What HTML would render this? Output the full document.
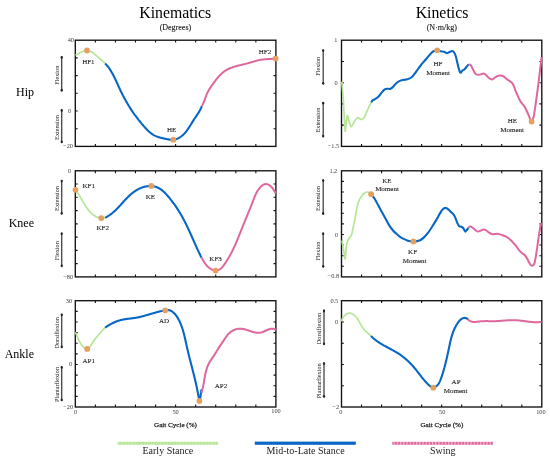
<!DOCTYPE html>
<html lang="en"><head><meta charset="utf-8"><title>Gait kinematics and kinetics</title>
<style>
html,body{margin:0;padding:0;background:#fff;}
body{width:550px;height:459px;overflow:hidden;}
svg{display:block;}
</style></head>
<body>
<svg width="550" height="459" viewBox="0 0 550 459" font-family="'Liberation Serif', 'Times New Roman', serif">
<path d="M95.36,146.4 v-2.4 M95.36,40.2 v2.4 M115.42,146.4 v-2.4 M115.42,40.2 v2.4 M135.48,146.4 v-2.4 M135.48,40.2 v2.4 M155.54,146.4 v-2.4 M155.54,40.2 v2.4 M175.6,146.4 v-2.4 M175.6,40.2 v2.4 M195.66,146.4 v-2.4 M195.66,40.2 v2.4 M215.72,146.4 v-2.4 M215.72,40.2 v2.4 M235.78,146.4 v-2.4 M235.78,40.2 v2.4 M255.84,146.4 v-2.4 M255.84,40.2 v2.4 M75.3,57.9 h2.4 M275.9,57.9 h-2.4 M75.3,75.6 h2.4 M275.9,75.6 h-2.4 M75.3,93.3 h2.4 M275.9,93.3 h-2.4 M75.3,111 h2.4 M275.9,111 h-2.4 M75.3,128.7 h2.4 M275.9,128.7 h-2.4" stroke="#111" stroke-width="1.1" fill="none"/>
<rect x="75.3" y="40.2" width="200.6" height="106.2" fill="none" stroke="#111" stroke-width="1.35"/>
<path d="M95.36,276.9 v-2.4 M95.36,170.8 v2.4 M115.42,276.9 v-2.4 M115.42,170.8 v2.4 M135.48,276.9 v-2.4 M135.48,170.8 v2.4 M155.54,276.9 v-2.4 M155.54,170.8 v2.4 M175.6,276.9 v-2.4 M175.6,170.8 v2.4 M195.66,276.9 v-2.4 M195.66,170.8 v2.4 M215.72,276.9 v-2.4 M215.72,170.8 v2.4 M235.78,276.9 v-2.4 M235.78,170.8 v2.4 M255.84,276.9 v-2.4 M255.84,170.8 v2.4 M75.3,184.06 h2.4 M275.9,184.06 h-2.4 M75.3,197.32 h2.4 M275.9,197.32 h-2.4 M75.3,210.59 h2.4 M275.9,210.59 h-2.4 M75.3,223.85 h2.4 M275.9,223.85 h-2.4 M75.3,237.11 h2.4 M275.9,237.11 h-2.4 M75.3,250.38 h2.4 M275.9,250.38 h-2.4 M75.3,263.64 h2.4 M275.9,263.64 h-2.4" stroke="#111" stroke-width="1.1" fill="none"/>
<rect x="75.3" y="170.8" width="200.6" height="106.1" fill="none" stroke="#111" stroke-width="1.35"/>
<path d="M95.36,407 v-2.4 M95.36,300.7 v2.4 M115.42,407 v-2.4 M115.42,300.7 v2.4 M135.48,407 v-2.4 M135.48,300.7 v2.4 M155.54,407 v-2.4 M155.54,300.7 v2.4 M175.6,407 v-2.4 M175.6,300.7 v2.4 M195.66,407 v-2.4 M195.66,300.7 v2.4 M215.72,407 v-2.4 M215.72,300.7 v2.4 M235.78,407 v-2.4 M235.78,300.7 v2.4 M255.84,407 v-2.4 M255.84,300.7 v2.4 M75.3,311.33 h2.4 M275.9,311.33 h-2.4 M75.3,321.96 h2.4 M275.9,321.96 h-2.4 M75.3,332.59 h2.4 M275.9,332.59 h-2.4 M75.3,343.22 h2.4 M275.9,343.22 h-2.4 M75.3,353.85 h2.4 M275.9,353.85 h-2.4 M75.3,364.48 h2.4 M275.9,364.48 h-2.4 M75.3,375.11 h2.4 M275.9,375.11 h-2.4 M75.3,385.74 h2.4 M275.9,385.74 h-2.4 M75.3,396.37 h2.4 M275.9,396.37 h-2.4" stroke="#111" stroke-width="1.1" fill="none"/>
<rect x="75.3" y="300.7" width="200.6" height="106.3" fill="none" stroke="#111" stroke-width="1.35"/>
<path d="M361.53,146.4 v-2.4 M361.53,40.2 v2.4 M381.56,146.4 v-2.4 M381.56,40.2 v2.4 M401.59,146.4 v-2.4 M401.59,40.2 v2.4 M421.62,146.4 v-2.4 M421.62,40.2 v2.4 M441.65,146.4 v-2.4 M441.65,40.2 v2.4 M461.68,146.4 v-2.4 M461.68,40.2 v2.4 M481.71,146.4 v-2.4 M481.71,40.2 v2.4 M501.74,146.4 v-2.4 M501.74,40.2 v2.4 M521.77,146.4 v-2.4 M521.77,40.2 v2.4 M341.5,61.44 h2.4 M541.8,61.44 h-2.4 M341.5,82.68 h2.4 M541.8,82.68 h-2.4 M341.5,103.92 h2.4 M541.8,103.92 h-2.4 M341.5,125.16 h2.4 M541.8,125.16 h-2.4" stroke="#111" stroke-width="1.1" fill="none"/>
<rect x="341.5" y="40.2" width="200.3" height="106.2" fill="none" stroke="#111" stroke-width="1.35"/>
<path d="M361.53,276.9 v-2.4 M361.53,170.8 v2.4 M381.56,276.9 v-2.4 M381.56,170.8 v2.4 M401.59,276.9 v-2.4 M401.59,170.8 v2.4 M421.62,276.9 v-2.4 M421.62,170.8 v2.4 M441.65,276.9 v-2.4 M441.65,170.8 v2.4 M461.68,276.9 v-2.4 M461.68,170.8 v2.4 M481.71,276.9 v-2.4 M481.71,170.8 v2.4 M501.74,276.9 v-2.4 M501.74,170.8 v2.4 M521.77,276.9 v-2.4 M521.77,170.8 v2.4 M341.5,181.41 h2.4 M541.8,181.41 h-2.4 M341.5,192.02 h2.4 M541.8,192.02 h-2.4 M341.5,202.63 h2.4 M541.8,202.63 h-2.4 M341.5,213.24 h2.4 M541.8,213.24 h-2.4 M341.5,223.85 h2.4 M541.8,223.85 h-2.4 M341.5,234.46 h2.4 M541.8,234.46 h-2.4 M341.5,245.07 h2.4 M541.8,245.07 h-2.4 M341.5,255.68 h2.4 M541.8,255.68 h-2.4 M341.5,266.29 h2.4 M541.8,266.29 h-2.4" stroke="#111" stroke-width="1.1" fill="none"/>
<rect x="341.5" y="170.8" width="200.3" height="106.1" fill="none" stroke="#111" stroke-width="1.35"/>
<path d="M361.53,407 v-2.4 M361.53,300.7 v2.4 M381.56,407 v-2.4 M381.56,300.7 v2.4 M401.59,407 v-2.4 M401.59,300.7 v2.4 M421.62,407 v-2.4 M421.62,300.7 v2.4 M441.65,407 v-2.4 M441.65,300.7 v2.4 M461.68,407 v-2.4 M461.68,300.7 v2.4 M481.71,407 v-2.4 M481.71,300.7 v2.4 M501.74,407 v-2.4 M501.74,300.7 v2.4 M521.77,407 v-2.4 M521.77,300.7 v2.4 M341.5,321.96 h2.4 M541.8,321.96 h-2.4 M341.5,343.22 h2.4 M541.8,343.22 h-2.4 M341.5,364.48 h2.4 M541.8,364.48 h-2.4 M341.5,385.74 h2.4 M541.8,385.74 h-2.4" stroke="#111" stroke-width="1.1" fill="none"/>
<rect x="341.5" y="300.7" width="200.3" height="106.3" fill="none" stroke="#111" stroke-width="1.35"/>
<path d="M75.3,55 L75.87,54.86 L76.44,54.68 L77,54.44 L77.56,54.17 L78.12,53.87 L78.67,53.55 L79.23,53.22 L79.78,52.89 L80.34,52.55 L80.9,52.23 L81.47,51.93 L82.04,51.66 L82.61,51.43 L83.19,51.23 L83.78,51.06 L84.37,50.93 L84.96,50.84 L85.55,50.78 L86.14,50.76 L86.74,50.77 L87.33,50.81 L87.91,50.88 L88.5,50.99 L89.08,51.13 L89.65,51.3 L90.22,51.5 L90.77,51.73 L91.32,51.99 L91.86,52.28 L92.39,52.59 L92.92,52.93 L93.43,53.29 L93.94,53.67 L94.44,54.06 L94.93,54.46 L95.43,54.87 L95.91,55.29 L96.4,55.72 L96.88,56.15 L97.36,56.57 L97.83,56.99 L98.31,57.41 L98.79,57.81 L99.27,58.21 L99.74,58.59 L100.22,58.97 L100.69,59.35 L101.17,59.73 L101.64,60.11 L102.1,60.49 L102.56,60.88 L103.02,61.28 L103.47,61.69 L103.92,62.11 L104.35,62.56 L104.78,63.02 L105.2,63.5" fill="none" stroke="#b5e696" stroke-width="1.7" stroke-linejoin="round" stroke-linecap="butt"/>
<path d="M105.2,63.5 L105.62,63.94 L106.03,64.39 L106.44,64.85 L106.83,65.31 L107.22,65.77 L107.6,66.24 L107.97,66.72 L108.34,67.2 L108.7,67.68 L109.05,68.17 L109.39,68.66 L109.73,69.15 L110.07,69.65 L110.39,70.16 L110.72,70.66 L111.03,71.17 L111.34,71.69 L111.65,72.2 L111.95,72.72 L112.25,73.24 L112.54,73.77 L112.83,74.3 L113.11,74.83 L113.39,75.36 L113.67,75.89 L113.94,76.43 L114.21,76.97 L114.48,77.51 L114.75,78.05 L115.01,78.59 L115.27,79.14 L115.53,79.68 L115.78,80.23 L116.04,80.78 L116.29,81.33 L116.54,81.88 L116.8,82.43 L117.05,82.98 L117.3,83.53 L117.55,84.08 L117.79,84.64 L118.04,85.19 L118.29,85.74 L118.54,86.29 L118.8,86.84 L119.05,87.39 L119.3,87.94 L119.55,88.49 L119.81,89.04 L120.07,89.59 L120.33,90.13 L120.59,90.68 L120.85,91.22 L121.11,91.76 L121.38,92.31 L121.64,92.85 L121.91,93.39 L122.18,93.93 L122.45,94.47 L122.73,95 L123,95.54 L123.28,96.07 L123.56,96.61 L123.84,97.14 L124.12,97.67 L124.4,98.2 L124.69,98.73 L124.98,99.26 L125.27,99.79 L125.56,100.31 L125.85,100.84 L126.15,101.36 L126.44,101.89 L126.74,102.41 L127.04,102.93 L127.35,103.45 L127.65,103.96 L127.96,104.48 L128.27,104.99 L128.58,105.51 L128.9,106.02 L129.21,106.53 L129.53,107.04 L129.85,107.55 L130.18,108.06 L130.5,108.56 L130.83,109.07 L131.16,109.57 L131.49,110.07 L131.82,110.57 L132.16,111.07 L132.5,111.57 L132.84,112.06 L133.18,112.56 L133.53,113.05 L133.87,113.54 L134.22,114.04 L134.57,114.53 L134.93,115.01 L135.28,115.5 L135.64,115.99 L136,116.47 L136.36,116.96 L136.72,117.44 L137.09,117.92 L137.45,118.4 L137.82,118.88 L138.2,119.36 L138.57,119.83 L138.94,120.31 L139.32,120.78 L139.7,121.25 L140.08,121.73 L140.46,122.2 L140.85,122.67 L141.23,123.13 L141.62,123.6 L142.01,124.07 L142.41,124.53 L142.8,124.99 L143.2,125.46 L143.59,125.92 L143.99,126.38 L144.4,126.83 L144.8,127.29 L145.21,127.74 L145.62,128.19 L146.03,128.63 L146.45,129.07 L146.87,129.51 L147.29,129.94 L147.72,130.36 L148.16,130.77 L148.59,131.18 L149.04,131.59 L149.49,131.98 L149.94,132.37 L150.4,132.74 L150.86,133.11 L151.34,133.47 L151.81,133.81 L152.3,134.15 L152.79,134.47 L153.29,134.79 L153.79,135.09 L154.31,135.38 L154.83,135.65 L155.36,135.91 L155.89,136.16 L156.44,136.39 L156.99,136.61 L157.56,136.81 L158.12,137 L158.7,137.19 L159.28,137.36 L159.87,137.52 L160.46,137.68 L161.06,137.83 L161.66,137.97 L162.26,138.11 L162.87,138.25 L163.48,138.38 L164.09,138.51 L164.71,138.65 L165.32,138.78 L165.93,138.91 L166.55,139.04 L167.16,139.17 L167.78,139.29 L168.39,139.4 L169,139.5 L169.61,139.59 L170.22,139.66 L170.82,139.71 L171.42,139.75 L172.01,139.77 L172.61,139.76 L173.19,139.73 L173.77,139.67 L174.35,139.58 L174.92,139.47 L175.48,139.33 L176.04,139.17 L176.59,138.98 L177.14,138.77 L177.67,138.54 L178.2,138.29 L178.72,138.02 L179.24,137.73 L179.74,137.42 L180.24,137.1 L180.73,136.76 L181.21,136.41 L181.68,136.04 L182.14,135.66 L182.6,135.27 L183.04,134.87 L183.47,134.46 L183.9,134.03 L184.31,133.6 L184.72,133.16 L185.12,132.71 L185.51,132.26 L185.89,131.79 L186.27,131.32 L186.64,130.84 L187,130.36 L187.36,129.87 L187.72,129.37 L188.07,128.87 L188.41,128.37 L188.75,127.86 L189.09,127.34 L189.42,126.83 L189.75,126.31 L190.08,125.79 L190.4,125.27 L190.73,124.75 L191.05,124.22 L191.37,123.7 L191.69,123.17 L192.01,122.65 L192.33,122.13 L192.65,121.61 L192.97,121.09 L193.29,120.57 L193.62,120.06 L193.94,119.55 L194.27,119.04 L194.6,118.54 L194.93,118.04 L195.27,117.54 L195.6,117.05 L195.94,116.56 L196.27,116.07 L196.61,115.58 L196.94,115.08 L197.27,114.59 L197.6,114.1 L197.92,113.61 L198.24,113.11 L198.56,112.61 L198.87,112.1 L199.18,111.59 L199.48,111.08 L199.77,110.56 L200.06,110.03 L200.34,109.5 L200.61,108.95 L200.87,108.4 L201.12,107.84 L201.35,107.27 L201.58,106.69 L201.8,106.1" fill="none" stroke="#0867c6" stroke-width="2.1" stroke-linejoin="round" stroke-linecap="butt"/>
<path d="M201.8,106.1 L202.11,105.58 L202.41,105.05 L202.69,104.51 L202.96,103.97 L203.22,103.42 L203.47,102.87 L203.71,102.31 L203.94,101.75 L204.16,101.18 L204.38,100.61 L204.59,100.04 L204.8,99.47 L205.01,98.9 L205.21,98.33 L205.42,97.76 L205.63,97.19 L205.83,96.62 L206.05,96.06 L206.26,95.5 L206.48,94.94 L206.71,94.39 L206.94,93.84 L207.19,93.3 L207.44,92.76 L207.7,92.23 L207.97,91.7 L208.25,91.18 L208.54,90.66 L208.84,90.15 L209.14,89.64 L209.45,89.14 L209.76,88.63 L210.08,88.13 L210.41,87.63 L210.74,87.13 L211.08,86.64 L211.42,86.14 L211.77,85.65 L212.12,85.15 L212.47,84.66 L212.82,84.16 L213.18,83.67 L213.54,83.17 L213.91,82.67 L214.27,82.17 L214.64,81.67 L215.01,81.17 L215.39,80.67 L215.77,80.18 L216.15,79.69 L216.54,79.2 L216.93,78.71 L217.32,78.23 L217.72,77.75 L218.12,77.27 L218.53,76.81 L218.94,76.34 L219.36,75.89 L219.78,75.44 L220.21,74.99 L220.64,74.56 L221.08,74.13 L221.52,73.71 L221.97,73.3 L222.42,72.9 L222.89,72.51 L223.35,72.13 L223.83,71.76 L224.31,71.41 L224.79,71.06 L225.29,70.73 L225.79,70.41 L226.3,70.1 L226.81,69.81 L227.33,69.52 L227.85,69.25 L228.39,68.98 L228.92,68.73 L229.46,68.49 L230.01,68.25 L230.56,68.03 L231.12,67.81 L231.68,67.6 L232.24,67.4 L232.81,67.2 L233.38,67.01 L233.95,66.83 L234.53,66.65 L235.11,66.48 L235.69,66.31 L236.27,66.15 L236.86,65.99 L237.45,65.83 L238.03,65.68 L238.62,65.53 L239.22,65.39 L239.81,65.24 L240.4,65.1 L240.99,64.96 L241.59,64.81 L242.18,64.67 L242.77,64.53 L243.36,64.39 L243.95,64.24 L244.54,64.1 L245.13,63.95 L245.71,63.8 L246.3,63.65 L246.89,63.5 L247.47,63.35 L248.05,63.19 L248.63,63.03 L249.21,62.87 L249.79,62.71 L250.37,62.55 L250.95,62.38 L251.53,62.21 L252.11,62.04 L252.69,61.87 L253.26,61.7 L253.84,61.52 L254.42,61.35 L254.99,61.18 L255.57,61.01 L256.15,60.84 L256.73,60.68 L257.31,60.53 L257.89,60.38 L258.48,60.24 L259.06,60.1 L259.65,59.98 L260.24,59.86 L260.83,59.76 L261.42,59.67 L262.02,59.58 L262.62,59.51 L263.22,59.44 L263.82,59.38 L264.42,59.32 L265.03,59.27 L265.63,59.22 L266.24,59.18 L266.84,59.14 L267.45,59.1 L268.05,59.07 L268.66,59.03 L269.27,59 L269.88,58.96 L270.48,58.93 L271.09,58.89 L271.69,58.84 L272.3,58.8 L272.9,58.75 L273.5,58.69 L274.11,58.63 L274.71,58.56 L275.3,58.48 L275.9,58.4" fill="none" stroke="#de679d" stroke-width="2" stroke-linejoin="round" stroke-linecap="butt"/>
<path d="M75.3,189.8 L75.67,190.26 L76.03,190.73 L76.39,191.21 L76.74,191.69 L77.09,192.18 L77.44,192.68 L77.78,193.18 L78.11,193.68 L78.45,194.19 L78.78,194.71 L79.11,195.23 L79.43,195.75 L79.76,196.27 L80.08,196.8 L80.4,197.34 L80.72,197.87 L81.04,198.41 L81.35,198.94 L81.67,199.48 L81.99,200.02 L82.31,200.56 L82.63,201.1 L82.95,201.64 L83.27,202.18 L83.59,202.72 L83.92,203.26 L84.25,203.79 L84.58,204.33 L84.91,204.86 L85.25,205.39 L85.59,205.91 L85.94,206.43 L86.28,206.95 L86.64,207.47 L87,207.98 L87.36,208.48 L87.73,208.98 L88.1,209.47 L88.49,209.96 L88.87,210.44 L89.27,210.92 L89.67,211.39 L90.08,211.85 L90.49,212.3 L90.92,212.74 L91.35,213.16 L91.79,213.58 L92.24,213.99 L92.69,214.38 L93.15,214.75 L93.63,215.12 L94.11,215.46 L94.6,215.79 L95.1,216.1 L95.6,216.39 L96.12,216.66 L96.65,216.91 L97.18,217.13 L97.73,217.34 L98.28,217.52 L98.85,217.68 L99.43,217.81 L100.01,217.91 L100.61,217.99 L101.22,218.04 L101.84,218.06 L102.47,218.05 L103.11,218.01 L103.76,217.94 L104.42,217.84 L105.1,217.7" fill="none" stroke="#b5e696" stroke-width="1.7" stroke-linejoin="round" stroke-linecap="butt"/>
<path d="M105.1,217.7 L105.66,217.42 L106.21,217.14 L106.76,216.84 L107.29,216.54 L107.82,216.23 L108.34,215.91 L108.86,215.59 L109.36,215.25 L109.86,214.91 L110.35,214.56 L110.84,214.21 L111.32,213.84 L111.79,213.48 L112.26,213.1 L112.72,212.72 L113.17,212.33 L113.63,211.94 L114.07,211.55 L114.52,211.15 L114.95,210.74 L115.39,210.33 L115.82,209.92 L116.24,209.5 L116.67,209.08 L117.09,208.65 L117.5,208.22 L117.92,207.79 L118.33,207.36 L118.74,206.92 L119.15,206.48 L119.56,206.04 L119.96,205.6 L120.37,205.16 L120.77,204.71 L121.18,204.27 L121.58,203.82 L121.98,203.37 L122.38,202.93 L122.79,202.48 L123.19,202.03 L123.6,201.59 L124,201.14 L124.41,200.7 L124.82,200.26 L125.23,199.82 L125.64,199.38 L126.06,198.94 L126.48,198.5 L126.9,198.07 L127.32,197.64 L127.75,197.22 L128.18,196.79 L128.61,196.37 L129.05,195.96 L129.49,195.54 L129.94,195.14 L130.39,194.73 L130.85,194.33 L131.31,193.94 L131.78,193.55 L132.25,193.17 L132.73,192.79 L133.22,192.42 L133.71,192.06 L134.21,191.7 L134.71,191.35 L135.22,191.01 L135.73,190.68 L136.24,190.35 L136.77,190.03 L137.29,189.73 L137.83,189.43 L138.36,189.14 L138.91,188.86 L139.45,188.59 L140,188.34 L140.56,188.09 L141.12,187.86 L141.68,187.64 L142.25,187.43 L142.82,187.24 L143.4,187.05 L143.98,186.89 L144.57,186.73 L145.15,186.59 L145.75,186.47 L146.34,186.36 L146.94,186.26 L147.54,186.18 L148.14,186.12 L148.74,186.07 L149.34,186.04 L149.94,186.02 L150.53,186.02 L151.13,186.04 L151.72,186.08 L152.32,186.13 L152.9,186.2 L153.48,186.29 L154.06,186.4 L154.63,186.53 L155.2,186.67 L155.76,186.84 L156.31,187.02 L156.86,187.23 L157.39,187.45 L157.92,187.69 L158.44,187.95 L158.96,188.23 L159.47,188.52 L159.97,188.82 L160.46,189.15 L160.95,189.48 L161.43,189.83 L161.91,190.19 L162.38,190.57 L162.84,190.96 L163.3,191.35 L163.75,191.76 L164.2,192.18 L164.64,192.6 L165.08,193.04 L165.51,193.48 L165.94,193.93 L166.36,194.38 L166.78,194.84 L167.19,195.31 L167.6,195.78 L168.01,196.25 L168.41,196.73 L168.81,197.2 L169.2,197.68 L169.59,198.17 L169.98,198.65 L170.36,199.13 L170.75,199.61 L171.13,200.09 L171.5,200.58 L171.87,201.06 L172.24,201.55 L172.61,202.03 L172.97,202.52 L173.33,203.01 L173.69,203.5 L174.05,203.99 L174.4,204.48 L174.75,204.97 L175.09,205.46 L175.44,205.95 L175.78,206.45 L176.12,206.94 L176.45,207.44 L176.78,207.93 L177.11,208.43 L177.44,208.93 L177.77,209.43 L178.09,209.93 L178.41,210.44 L178.73,210.94 L179.04,211.45 L179.36,211.95 L179.67,212.46 L179.97,212.97 L180.28,213.48 L180.58,214 L180.88,214.51 L181.18,215.03 L181.48,215.54 L181.77,216.06 L182.07,216.58 L182.36,217.1 L182.65,217.63 L182.93,218.15 L183.22,218.68 L183.5,219.21 L183.78,219.74 L184.06,220.27 L184.34,220.8 L184.61,221.34 L184.89,221.87 L185.16,222.41 L185.43,222.94 L185.7,223.48 L185.96,224.02 L186.23,224.56 L186.5,225.11 L186.76,225.65 L187.02,226.19 L187.28,226.74 L187.54,227.28 L187.8,227.83 L188.06,228.38 L188.31,228.93 L188.57,229.48 L188.82,230.03 L189.08,230.58 L189.33,231.13 L189.58,231.68 L189.83,232.23 L190.08,232.78 L190.33,233.34 L190.58,233.89 L190.83,234.44 L191.08,235 L191.33,235.55 L191.57,236.11 L191.82,236.66 L192.07,237.22 L192.31,237.77 L192.56,238.33 L192.81,238.88 L193.05,239.44 L193.3,239.99 L193.54,240.55 L193.79,241.1 L194.03,241.66 L194.28,242.21 L194.53,242.77 L194.77,243.32 L195.02,243.87 L195.26,244.43 L195.51,244.98 L195.76,245.53 L196.01,246.09 L196.26,246.64 L196.5,247.19 L196.75,247.74 L197,248.29 L197.25,248.84 L197.51,249.39 L197.76,249.93 L198.01,250.48 L198.27,251.03 L198.52,251.57 L198.78,252.12 L199.03,252.66 L199.29,253.2 L199.55,253.74 L199.81,254.28 L200.07,254.82 L200.34,255.36 L200.6,255.9 L200.87,256.43 L201.13,256.97 L201.4,257.5" fill="none" stroke="#0867c6" stroke-width="2.1" stroke-linejoin="round" stroke-linecap="butt"/>
<path d="M201.4,257.5 L201.71,258 L202.01,258.5 L202.32,259.01 L202.63,259.52 L202.94,260.03 L203.25,260.55 L203.57,261.07 L203.9,261.58 L204.23,262.09 L204.57,262.6 L204.91,263.11 L205.27,263.61 L205.63,264.1 L206.01,264.58 L206.39,265.06 L206.79,265.52 L207.2,265.97 L207.63,266.41 L208.07,266.84 L208.52,267.25 L209,267.64 L209.48,268.02 L209.99,268.38 L210.51,268.71 L211.05,269.02 L211.6,269.3 L212.16,269.55 L212.74,269.76 L213.33,269.94 L213.92,270.09 L214.52,270.19 L215.12,270.26 L215.71,270.29 L216.31,270.28 L216.9,270.23 L217.48,270.13 L218.05,270 L218.6,269.83 L219.14,269.62 L219.65,269.36 L220.14,269.06 L220.62,268.72 L221.07,268.35 L221.5,267.94 L221.91,267.51 L222.31,267.06 L222.7,266.59 L223.08,266.1 L223.46,265.61 L223.82,265.11 L224.19,264.61 L224.54,264.11 L224.9,263.6 L225.25,263.1 L225.59,262.59 L225.93,262.08 L226.27,261.57 L226.6,261.05 L226.93,260.54 L227.26,260.02 L227.58,259.5 L227.9,258.98 L228.22,258.46 L228.53,257.94 L228.83,257.41 L229.14,256.89 L229.44,256.36 L229.74,255.83 L230.03,255.3 L230.33,254.77 L230.61,254.23 L230.9,253.7 L231.18,253.16 L231.46,252.63 L231.74,252.09 L232.01,251.55 L232.29,251.01 L232.55,250.47 L232.82,249.92 L233.09,249.38 L233.35,248.84 L233.61,248.29 L233.87,247.74 L234.12,247.19 L234.37,246.65 L234.63,246.1 L234.87,245.54 L235.12,244.99 L235.37,244.44 L235.61,243.89 L235.85,243.33 L236.09,242.78 L236.33,242.22 L236.57,241.67 L236.81,241.11 L237.04,240.56 L237.28,240 L237.51,239.44 L237.74,238.88 L237.97,238.32 L238.2,237.76 L238.43,237.2 L238.65,236.64 L238.88,236.08 L239.11,235.52 L239.33,234.96 L239.56,234.4 L239.78,233.84 L240,233.28 L240.23,232.71 L240.45,232.15 L240.67,231.59 L240.9,231.03 L241.12,230.46 L241.34,229.9 L241.56,229.34 L241.79,228.78 L242.01,228.22 L242.23,227.65 L242.45,227.09 L242.68,226.53 L242.9,225.97 L243.13,225.41 L243.35,224.85 L243.58,224.29 L243.8,223.73 L244.03,223.17 L244.26,222.61 L244.48,222.05 L244.71,221.49 L244.94,220.93 L245.17,220.37 L245.4,219.81 L245.63,219.25 L245.86,218.69 L246.09,218.13 L246.32,217.57 L246.55,217.02 L246.78,216.46 L247.01,215.9 L247.24,215.34 L247.47,214.78 L247.71,214.22 L247.94,213.66 L248.17,213.1 L248.4,212.55 L248.63,211.99 L248.86,211.43 L249.09,210.87 L249.32,210.31 L249.54,209.75 L249.77,209.19 L250,208.63 L250.23,208.07 L250.46,207.5 L250.68,206.94 L250.91,206.38 L251.13,205.82 L251.36,205.26 L251.58,204.69 L251.81,204.13 L252.03,203.57 L252.25,203 L252.47,202.44 L252.69,201.87 L252.91,201.3 L253.13,200.74 L253.35,200.17 L253.56,199.6 L253.78,199.03 L254,198.47 L254.22,197.9 L254.44,197.34 L254.67,196.77 L254.9,196.21 L255.13,195.65 L255.37,195.1 L255.62,194.54 L255.88,193.99 L256.14,193.45 L256.41,192.91 L256.69,192.37 L256.98,191.84 L257.29,191.31 L257.6,190.79 L257.93,190.27 L258.27,189.77 L258.63,189.27 L259,188.77 L259.38,188.28 L259.79,187.81 L260.2,187.34 L260.64,186.88 L261.09,186.45 L261.55,186.04 L262.03,185.65 L262.51,185.3 L263.01,184.98 L263.52,184.71 L264.03,184.48 L264.56,184.29 L265.09,184.16 L265.63,184.09 L266.17,184.07 L266.71,184.13 L267.26,184.24 L267.81,184.41 L268.34,184.64 L268.88,184.91 L269.4,185.24 L269.91,185.61 L270.4,186.02 L270.88,186.47 L271.35,186.94 L271.8,187.44 L272.24,187.96 L272.66,188.49 L273.07,189.03 L273.45,189.58 L273.83,190.13 L274.18,190.67 L274.51,191.2 L274.83,191.71 L275.13,192.2 L275.41,192.67 L275.66,193.1 L275.9,193.5" fill="none" stroke="#de679d" stroke-width="2" stroke-linejoin="round" stroke-linecap="butt"/>
<path d="M75.3,332.2 L75.58,332.74 L75.85,333.28 L76.11,333.83 L76.36,334.38 L76.6,334.94 L76.84,335.5 L77.08,336.07 L77.32,336.63 L77.55,337.2 L77.78,337.77 L78.02,338.34 L78.26,338.91 L78.5,339.47 L78.76,340.04 L79.01,340.6 L79.28,341.15 L79.56,341.71 L79.85,342.25 L80.15,342.79 L80.47,343.33 L80.81,343.86 L81.16,344.37 L81.53,344.88 L81.92,345.38 L82.33,345.87 L82.77,346.35 L83.22,346.81 L83.7,347.24 L84.18,347.63 L84.68,347.97 L85.19,348.25 L85.7,348.46 L86.21,348.59 L86.71,348.62 L87.21,348.56 L87.7,348.39 L88.18,348.14 L88.65,347.8 L89.11,347.4 L89.55,346.95 L89.97,346.46 L90.38,345.95 L90.77,345.42 L91.14,344.88 L91.5,344.34 L91.85,343.79 L92.2,343.23 L92.54,342.69 L92.88,342.14 L93.23,341.61 L93.57,341.1 L93.92,340.59 L94.27,340.1 L94.63,339.61 L94.99,339.13 L95.36,338.66 L95.73,338.2 L96.1,337.73 L96.48,337.27 L96.87,336.81 L97.25,336.34 L97.65,335.88 L98.04,335.41 L98.44,334.94 L98.84,334.47 L99.25,334.01 L99.66,333.54 L100.07,333.07 L100.48,332.61 L100.89,332.15 L101.31,331.69 L101.73,331.23 L102.15,330.77 L102.57,330.32 L102.99,329.87 L103.41,329.43 L103.83,328.99 L104.26,328.55 L104.68,328.12 L105.1,327.7" fill="none" stroke="#b5e696" stroke-width="1.7" stroke-linejoin="round" stroke-linecap="butt"/>
<path d="M105.1,327.7 L105.59,327.35 L106.08,327.01 L106.57,326.67 L107.07,326.33 L107.58,326 L108.09,325.68 L108.6,325.36 L109.12,325.05 L109.64,324.74 L110.16,324.44 L110.69,324.14 L111.22,323.85 L111.76,323.57 L112.3,323.29 L112.84,323.02 L113.38,322.76 L113.93,322.5 L114.48,322.25 L115.04,322.01 L115.6,321.78 L116.16,321.56 L116.72,321.34 L117.29,321.13 L117.86,320.94 L118.43,320.74 L119.01,320.56 L119.59,320.39 L120.17,320.23 L120.75,320.07 L121.33,319.93 L121.92,319.8 L122.51,319.67 L123.1,319.55 L123.69,319.44 L124.29,319.34 L124.88,319.24 L125.48,319.15 L126.08,319.06 L126.68,318.98 L127.28,318.9 L127.88,318.82 L128.48,318.75 L129.08,318.67 L129.69,318.6 L130.29,318.53 L130.89,318.46 L131.49,318.38 L132.09,318.31 L132.69,318.23 L133.29,318.15 L133.89,318.07 L134.49,317.98 L135.09,317.89 L135.68,317.79 L136.28,317.69 L136.87,317.58 L137.46,317.47 L138.05,317.35 L138.64,317.23 L139.23,317.1 L139.81,316.97 L140.4,316.83 L140.99,316.69 L141.57,316.54 L142.15,316.4 L142.74,316.24 L143.32,316.09 L143.9,315.93 L144.48,315.77 L145.06,315.61 L145.64,315.45 L146.22,315.28 L146.8,315.11 L147.38,314.94 L147.95,314.77 L148.53,314.6 L149.11,314.43 L149.69,314.26 L150.27,314.09 L150.85,313.91 L151.43,313.74 L152,313.57 L152.58,313.4 L153.16,313.23 L153.74,313.06 L154.32,312.89 L154.91,312.72 L155.49,312.56 L156.07,312.4 L156.65,312.24 L157.24,312.08 L157.82,311.92 L158.41,311.77 L159,311.62 L159.58,311.48 L160.17,311.33 L160.76,311.2 L161.35,311.06 L161.95,310.93 L162.54,310.81 L163.14,310.69 L163.73,310.57 L164.33,310.46 L164.93,310.36 L165.53,310.26 L166.14,310.17 L166.74,310.1 L167.34,310.06 L167.93,310.05 L168.52,310.08 L169.11,310.16 L169.68,310.3 L170.25,310.5 L170.8,310.75 L171.34,311.04 L171.87,311.37 L172.38,311.73 L172.87,312.11 L173.34,312.5 L173.8,312.91 L174.24,313.33 L174.67,313.76 L175.08,314.21 L175.47,314.66 L175.85,315.13 L176.22,315.61 L176.57,316.09 L176.91,316.58 L177.24,317.09 L177.56,317.59 L177.87,318.11 L178.17,318.63 L178.46,319.16 L178.74,319.69 L179.01,320.22 L179.28,320.76 L179.54,321.3 L179.8,321.85 L180.04,322.4 L180.28,322.95 L180.52,323.5 L180.75,324.06 L180.97,324.62 L181.19,325.18 L181.4,325.75 L181.61,326.31 L181.81,326.88 L182.01,327.45 L182.2,328.03 L182.39,328.6 L182.57,329.18 L182.75,329.76 L182.93,330.34 L183.1,330.92 L183.27,331.51 L183.43,332.09 L183.59,332.68 L183.75,333.27 L183.91,333.85 L184.06,334.45 L184.21,335.04 L184.35,335.63 L184.5,336.22 L184.64,336.81 L184.78,337.41 L184.92,338 L185.06,338.6 L185.19,339.19 L185.32,339.79 L185.46,340.39 L185.59,340.98 L185.72,341.58 L185.85,342.17 L185.98,342.77 L186.11,343.36 L186.24,343.96 L186.37,344.55 L186.5,345.14 L186.63,345.73 L186.76,346.33 L186.89,346.92 L187.02,347.51 L187.16,348.09 L187.29,348.68 L187.43,349.27 L187.56,349.85 L187.7,350.44 L187.84,351.02 L187.98,351.6 L188.12,352.19 L188.26,352.77 L188.4,353.35 L188.54,353.93 L188.68,354.51 L188.82,355.09 L188.97,355.66 L189.11,356.24 L189.26,356.82 L189.4,357.4 L189.55,357.97 L189.69,358.55 L189.84,359.13 L189.99,359.7 L190.13,360.28 L190.28,360.85 L190.43,361.43 L190.58,362 L190.73,362.58 L190.87,363.15 L191.02,363.73 L191.17,364.31 L191.32,364.88 L191.47,365.46 L191.62,366.03 L191.77,366.61 L191.92,367.19 L192.07,367.77 L192.22,368.34 L192.36,368.92 L192.51,369.5 L192.66,370.08 L192.81,370.66 L192.96,371.24 L193.11,371.82 L193.25,372.41 L193.4,372.99 L193.55,373.57 L193.7,374.16 L193.84,374.74 L193.99,375.33 L194.13,375.92 L194.28,376.51 L194.42,377.1 L194.57,377.69 L194.71,378.28 L194.85,378.87 L194.99,379.47 L195.13,380.06 L195.27,380.66 L195.41,381.26 L195.55,381.86 L195.69,382.46 L195.83,383.07 L195.97,383.67 L196.1,384.28 L196.24,384.89 L196.37,385.5 L196.5,386.11 L196.63,386.72 L196.76,387.34 L196.89,387.95 L197.02,388.57 L197.15,389.19 L197.28,389.82 L197.4,390.44 L197.52,391.07 L197.65,391.7 L197.77,392.33 L197.89,392.96 L198.01,393.6 L198.12,394.24 L198.24,394.88 L198.35,395.52 L198.47,396.16 L198.58,396.78 L198.69,397.38 L198.8,397.95 L198.92,398.48 L199.03,398.95 L199.14,399.37 L199.26,399.71 L199.38,399.98 L199.5,400.16 L199.62,400.21 L199.76,400.09 L199.9,399.74 L200.06,399.09 L200.25,398.09 L200.46,396.69 L200.68,394.96 L200.91,393.14 L201.12,391.53 L201.3,390.4 L201.42,390.04 L201.46,390.71 L201.4,392.7" fill="none" stroke="#0867c6" stroke-width="2.1" stroke-linejoin="round" stroke-linecap="butt"/>
<path d="M201.4,392.7 L201.59,392.14 L201.77,391.57 L201.95,391 L202.12,390.42 L202.28,389.84 L202.43,389.26 L202.58,388.68 L202.72,388.09 L202.85,387.5 L202.99,386.91 L203.11,386.31 L203.23,385.72 L203.35,385.12 L203.47,384.52 L203.58,383.92 L203.69,383.32 L203.8,382.71 L203.9,382.11 L204.01,381.5 L204.11,380.9 L204.21,380.29 L204.32,379.69 L204.42,379.08 L204.53,378.48 L204.63,377.87 L204.74,377.27 L204.85,376.67 L204.96,376.07 L205.07,375.47 L205.19,374.87 L205.31,374.27 L205.44,373.67 L205.57,373.08 L205.7,372.49 L205.84,371.9 L205.99,371.31 L206.14,370.73 L206.3,370.15 L206.46,369.57 L206.64,368.99 L206.82,368.42 L207.01,367.85 L207.2,367.29 L207.41,366.73 L207.63,366.18 L207.85,365.63 L208.09,365.08 L208.33,364.54 L208.59,364 L208.86,363.47 L209.14,362.94 L209.44,362.42 L209.74,361.91 L210.06,361.4 L210.38,360.89 L210.71,360.39 L211.05,359.88 L211.39,359.38 L211.73,358.88 L212.07,358.38 L212.42,357.88 L212.76,357.38 L213.1,356.88 L213.43,356.38 L213.77,355.87 L214.11,355.37 L214.44,354.86 L214.77,354.35 L215.09,353.84 L215.42,353.33 L215.74,352.81 L216.05,352.29 L216.36,351.77 L216.67,351.25 L216.98,350.73 L217.29,350.21 L217.6,349.69 L217.92,349.17 L218.23,348.66 L218.55,348.15 L218.88,347.64 L219.2,347.13 L219.53,346.63 L219.86,346.13 L220.2,345.63 L220.53,345.13 L220.87,344.63 L221.21,344.13 L221.55,343.64 L221.88,343.14 L222.22,342.64 L222.56,342.14 L222.9,341.63 L223.24,341.13 L223.58,340.62 L223.92,340.11 L224.25,339.6 L224.59,339.09 L224.93,338.57 L225.27,338.06 L225.61,337.55 L225.96,337.05 L226.31,336.55 L226.67,336.06 L227.04,335.57 L227.42,335.09 L227.81,334.63 L228.21,334.17 L228.62,333.73 L229.04,333.3 L229.48,332.89 L229.94,332.5 L230.4,332.12 L230.89,331.75 L231.38,331.41 L231.89,331.09 L232.41,330.78 L232.94,330.49 L233.49,330.22 L234.04,329.98 L234.6,329.75 L235.16,329.54 L235.74,329.36 L236.31,329.2 L236.9,329.06 L237.49,328.94 L238.08,328.84 L238.67,328.77 L239.27,328.72 L239.86,328.7 L240.46,328.7 L241.06,328.72 L241.65,328.77 L242.25,328.84 L242.84,328.93 L243.43,329.04 L244.02,329.17 L244.61,329.31 L245.2,329.46 L245.79,329.63 L246.38,329.8 L246.97,329.99 L247.56,330.18 L248.14,330.37 L248.73,330.57 L249.32,330.77 L249.9,330.97 L250.49,331.17 L251.07,331.37 L251.65,331.56 L252.24,331.74 L252.82,331.92 L253.4,332.08 L253.98,332.23 L254.57,332.37 L255.15,332.5 L255.73,332.6 L256.31,332.69 L256.89,332.76 L257.47,332.81 L258.05,332.83 L258.63,332.83 L259.21,332.8 L259.79,332.74 L260.37,332.66 L260.95,332.54 L261.53,332.39 L262.11,332.21 L262.69,332 L263.27,331.78 L263.85,331.54 L264.43,331.29 L265.01,331.03 L265.59,330.76 L266.16,330.5 L266.74,330.24 L267.32,329.98 L267.9,329.74 L268.47,329.51 L269.05,329.31 L269.62,329.12 L270.2,328.97 L270.77,328.84 L271.34,328.76 L271.92,328.71 L272.49,328.7 L273.06,328.74 L273.63,328.83 L274.2,328.98 L274.77,329.19 L275.33,329.46 L275.9,329.8" fill="none" stroke="#de679d" stroke-width="2" stroke-linejoin="round" stroke-linecap="butt"/>
<path d="M341.8,81.7 C341.95,83.4 342.84,92.74 343.1,96.3 C343.36,99.86 343.77,108.14 344,112.2 C344.23,116.26 344.83,129.96 345.1,131.1 C345.37,132.24 346.01,123.86 346.3,122 C346.59,120.14 347.26,115.2 347.6,115.2 C347.94,115.2 348.78,120.65 349.2,122 C349.62,123.35 350.71,126.66 351.2,126.8 C351.69,126.94 352.92,123.98 353.4,123.2 C353.88,122.42 354.8,120.74 355.3,120.1 C355.8,119.46 357.14,117.84 357.7,117.7 C358.26,117.56 359.6,118.69 360.1,118.9 C360.6,119.11 361.5,119.71 362,119.5 C362.5,119.29 363.9,117.88 364.4,117.1 C364.9,116.32 365.8,113.94 366.3,112.8 C366.8,111.66 368.14,108.51 368.7,107.3 C369.26,106.09 370.82,102.97 371.1,102.4" fill="none" stroke="#b5e696" stroke-width="1.7" stroke-linejoin="round" stroke-linecap="butt"/>
<path d="M371.1,102.4 C371.34,102.11 372.26,100.69 372.9,100.2 C373.54,99.71 375.11,99.22 375.9,98.7 C376.69,98.18 378.01,97.14 378.8,96.3 C379.59,95.46 381.01,93.32 381.8,92.4 C382.59,91.48 383.98,89.89 384.7,89.4 C385.42,88.91 386.48,88.77 387.2,88.7 C387.92,88.63 389.33,89.13 390.1,88.9 C390.87,88.67 392.21,87.72 393,87 C393.79,86.28 395.21,84.25 396,83.5 C396.79,82.75 398.05,81.85 398.9,81.4 C399.75,80.95 401.48,80.34 402.4,80.1 C403.32,79.86 404.89,79.8 405.8,79.6 C406.71,79.4 408.35,78.99 409.2,78.6 C410.05,78.21 411.41,77.42 412.2,76.7 C412.99,75.98 414.33,74.23 415.1,73.2 C415.87,72.17 417.21,70.09 418,69 C418.79,67.91 420.2,66 421,65 C421.8,64 423.2,62.43 424,61.5 C424.8,60.57 426.2,58.93 427,58 C427.8,57.07 429.2,55.37 430,54.5 C430.8,53.63 432.04,52.06 433,51.5 C433.96,50.94 436.13,50.33 437.2,50.3 C438.27,50.27 440.09,51.11 441,51.3 C441.91,51.49 443.2,51.45 444,51.7 C444.8,51.95 446.27,53.16 447,53.2 C447.73,53.24 448.83,52.29 449.5,52 C450.17,51.71 451.43,51 452,51 C452.57,51 453.31,51.33 453.8,52 C454.29,52.67 455.25,54.67 455.7,56 C456.15,57.33 456.81,60.4 457.2,62 C457.59,63.6 458.24,66.67 458.6,68 C458.96,69.33 459.58,71.4 459.9,72 C460.22,72.6 460.59,72.77 461,72.5 C461.41,72.23 462.53,70.4 463,70 C463.47,69.6 464.1,69.83 464.5,69.5 C464.9,69.17 465.45,68.18 466,67.5 C466.55,66.82 468.25,64.81 468.6,64.4" fill="none" stroke="#0867c6" stroke-width="2.1" stroke-linejoin="round" stroke-linecap="butt"/>
<path d="M468.6,64.4 C468.85,64.45 470.01,64.32 470.5,64.8 C470.99,65.28 471.82,67.09 472.3,68 C472.78,68.91 473.62,70.77 474.1,71.6 C474.58,72.43 475.3,73.77 475.9,74.2 C476.5,74.63 477.87,74.8 478.6,74.8 C479.33,74.8 480.67,74.36 481.4,74.2 C482.13,74.04 483.38,73.4 484.1,73.6 C484.82,73.8 486.08,75.05 486.8,75.7 C487.52,76.35 488.77,78.01 489.5,78.5 C490.23,78.99 491.57,79.53 492.3,79.4 C493.03,79.27 494.28,77.95 495,77.5 C495.72,77.05 496.97,76.27 497.7,76 C498.43,75.73 499.77,75.47 500.5,75.5 C501.23,75.53 502.48,75.8 503.2,76.2 C503.92,76.6 505.18,77.95 505.9,78.5 C506.62,79.05 507.87,79.79 508.6,80.3 C509.33,80.81 510.73,81.61 511.4,82.3 C512.07,82.99 513.04,84.35 513.6,85.5 C514.16,86.65 515,89.42 515.6,90.9 C516.2,92.38 517.45,95.19 518.1,96.6 C518.75,98.01 519.74,100.3 520.5,101.5 C521.26,102.7 523.04,104.51 523.8,105.6 C524.56,106.69 525.55,108.39 526.2,109.7 C526.85,111.01 528.15,114.09 528.7,115.4 C529.25,116.71 529.91,118.67 530.3,119.5 C530.69,120.33 531.16,121.93 531.6,121.6 C532.04,121.27 533.12,118.92 533.6,117 C534.08,115.08 534.77,110.03 535.2,107.2 C535.63,104.37 536.36,99.05 536.8,95.8 C537.24,92.55 538.06,86.28 538.5,82.8 C538.94,79.32 539.69,73.14 540.1,69.7 C540.51,66.26 541.4,58.69 541.6,57" fill="none" stroke="#de679d" stroke-width="2" stroke-linejoin="round" stroke-linecap="butt"/>
<path d="M341.9,240.5 C342.15,241.91 343.36,248.65 343.8,251.1 C344.24,253.55 344.83,259.83 345.2,258.9 C345.57,257.97 346.13,246.77 346.6,244.1 C347.07,241.43 348.07,240.06 348.7,238.9 C349.33,237.74 350.73,236.79 351.3,235.4 C351.87,234.01 352.53,230.58 353,228.5 C353.47,226.42 354.33,222.24 354.8,219.8 C355.27,217.36 356.03,212.52 356.5,210.2 C356.97,207.88 357.71,204.13 358.3,202.4 C358.89,200.67 360.1,198.41 360.9,197.2 C361.7,195.99 363.38,193.99 364.3,193.3 C365.22,192.61 366.88,191.88 367.8,192 C368.72,192.12 370.75,193.91 371.2,194.2" fill="none" stroke="#b5e696" stroke-width="1.7" stroke-linejoin="round" stroke-linecap="butt"/>
<path d="M371.2,194.2 C371.68,194.84 373.84,197.48 374.8,199 C375.76,200.52 377.44,203.84 378.4,205.6 C379.36,207.36 381.04,210.44 382,212.2 C382.96,213.96 384.64,217.04 385.6,218.8 C386.56,220.56 388.24,223.88 389.2,225.4 C390.16,226.92 391.84,229.08 392.8,230.2 C393.76,231.32 395.44,232.92 396.4,233.8 C397.36,234.68 399.04,236.12 400,236.8 C400.96,237.48 402.64,238.42 403.6,238.9 C404.56,239.38 406.24,240.08 407.2,240.4 C408.16,240.72 409.97,241.14 410.8,241.3 C411.63,241.46 412.25,241.69 413.4,241.6 C414.55,241.51 418.03,241.13 419.4,240.6 C420.77,240.07 422.54,238.65 423.7,237.6 C424.86,236.55 426.94,234.22 428.1,232.7 C429.26,231.18 431.24,228.01 432.4,226.2 C433.56,224.39 435.77,220.85 436.8,219.1 C437.83,217.35 439.3,214.41 440.1,213.1 C440.9,211.79 442.08,209.99 442.8,209.3 C443.52,208.61 444.77,207.9 445.5,207.9 C446.23,207.9 447.57,208.75 448.3,209.3 C449.03,209.85 450.28,211.28 451,212 C451.72,212.72 453.05,213.75 453.7,214.7 C454.35,215.65 455.39,217.94 455.9,219.1 C456.41,220.26 457.06,222.45 457.5,223.4 C457.94,224.35 458.69,225.76 459.2,226.2 C459.71,226.64 460.79,226.49 461.3,226.7 C461.81,226.91 462.6,227.36 463,227.8 C463.4,228.24 463.98,229.49 464.3,230 C464.62,230.51 465.07,231.6 465.4,231.6 C465.73,231.6 466.4,230.51 466.8,230 C467.2,229.49 468.19,228.09 468.4,227.8" fill="none" stroke="#0867c6" stroke-width="2.1" stroke-linejoin="round" stroke-linecap="butt"/>
<path d="M468.4,227.8 C468.63,227.61 469.53,226.41 470.1,226.4 C470.67,226.39 471.98,227.19 472.7,227.7 C473.42,228.21 474.77,229.68 475.5,230.2 C476.23,230.72 477.48,231.56 478.2,231.6 C478.92,231.64 480.18,230.78 480.9,230.5 C481.62,230.22 482.87,229.5 483.6,229.5 C484.33,229.5 485.67,230.07 486.4,230.5 C487.13,230.93 488.38,232.22 489.1,232.7 C489.82,233.18 491.08,233.91 491.8,234.1 C492.52,234.29 493.77,234.14 494.5,234.1 C495.23,234.06 496.57,233.76 497.3,233.8 C498.03,233.84 499.28,234.2 500,234.4 C500.72,234.6 501.97,235.03 502.7,235.3 C503.43,235.57 504.77,236.04 505.5,236.4 C506.23,236.76 507.48,237.49 508.2,238 C508.92,238.51 510.18,239.51 510.9,240.2 C511.62,240.89 512.99,242.53 513.6,243.2 C514.21,243.87 514.99,244.57 515.5,245.2 C516.01,245.83 516.81,247.1 517.4,247.9 C517.99,248.7 519.23,250.45 519.9,251.2 C520.57,251.95 521.73,252.95 522.4,253.5 C523.07,254.05 524.23,254.57 524.9,255.3 C525.57,256.03 526.83,258 527.4,259 C527.97,260 528.71,261.97 529.2,262.8 C529.69,263.63 530.65,264.83 531.1,265.2 C531.55,265.57 532.19,265.76 532.6,265.6 C533.01,265.44 533.83,264.88 534.2,264 C534.57,263.12 535.07,260.73 535.4,259 C535.73,257.27 536.37,253.23 536.7,251 C537.03,248.77 537.57,244.62 537.9,242.3 C538.23,239.98 538.87,235.75 539.2,233.6 C539.53,231.45 540.13,227.61 540.4,226.2 C540.67,224.79 541.09,223.43 541.2,223" fill="none" stroke="#de679d" stroke-width="2" stroke-linejoin="round" stroke-linecap="butt"/>
<path d="M341.6,321.3 L341.68,320.77 L341.82,320.22 L342,319.65 L342.23,319.08 L342.5,318.5 L342.81,317.93 L343.16,317.36 L343.55,316.8 L343.96,316.26 L344.4,315.75 L344.87,315.26 L345.35,314.81 L345.86,314.4 L346.38,314.03 L346.91,313.72 L347.46,313.46 L348,313.27 L348.55,313.14 L349.11,313.08 L349.66,313.08 L350.21,313.15 L350.75,313.27 L351.29,313.45 L351.83,313.68 L352.35,313.95 L352.87,314.27 L353.38,314.62 L353.88,315 L354.37,315.41 L354.84,315.85 L355.3,316.31 L355.74,316.79 L356.17,317.28 L356.58,317.77 L356.97,318.28 L357.34,318.79 L357.7,319.3 L358.05,319.82 L358.38,320.35 L358.71,320.88 L359.02,321.4 L359.33,321.94 L359.63,322.47 L359.93,323 L360.23,323.53 L360.53,324.06 L360.83,324.59 L361.13,325.12 L361.43,325.64 L361.74,326.16 L362.06,326.68 L362.39,327.18 L362.73,327.69 L363.08,328.18 L363.44,328.67 L363.82,329.15 L364.21,329.62 L364.63,330.08 L365.06,330.53 L365.51,330.98 L365.96,331.41 L366.43,331.84 L366.9,332.26 L367.38,332.68 L367.86,333.1 L368.33,333.51 L368.81,333.92 L369.27,334.34 L369.72,334.75 L370.17,335.16 L370.59,335.58 L371,336" fill="none" stroke="#b5e696" stroke-width="1.7" stroke-linejoin="round" stroke-linecap="butt"/>
<path d="M371,336 L371.43,336.44 L371.86,336.87 L372.3,337.29 L372.75,337.71 L373.2,338.12 L373.66,338.51 L374.12,338.91 L374.58,339.29 L375.05,339.67 L375.53,340.04 L376.01,340.4 L376.49,340.76 L376.98,341.11 L377.47,341.46 L377.96,341.8 L378.46,342.14 L378.96,342.47 L379.46,342.79 L379.97,343.12 L380.48,343.43 L380.99,343.75 L381.51,344.06 L382.02,344.36 L382.54,344.67 L383.06,344.97 L383.59,345.26 L384.11,345.56 L384.64,345.85 L385.16,346.14 L385.69,346.43 L386.22,346.72 L386.75,347.01 L387.28,347.29 L387.82,347.58 L388.35,347.86 L388.88,348.14 L389.41,348.43 L389.94,348.71 L390.48,349 L391.01,349.28 L391.54,349.57 L392.07,349.86 L392.6,350.14 L393.13,350.43 L393.65,350.73 L394.18,351.02 L394.7,351.32 L395.23,351.62 L395.75,351.92 L396.26,352.23 L396.78,352.54 L397.29,352.85 L397.81,353.17 L398.31,353.49 L398.82,353.82 L399.32,354.15 L399.82,354.48 L400.32,354.82 L400.81,355.17 L401.3,355.52 L401.79,355.87 L402.27,356.23 L402.75,356.59 L403.23,356.96 L403.7,357.33 L404.17,357.71 L404.64,358.09 L405.1,358.48 L405.56,358.87 L406.02,359.26 L406.47,359.66 L406.92,360.06 L407.37,360.46 L407.81,360.87 L408.25,361.28 L408.69,361.7 L409.12,362.12 L409.55,362.54 L409.97,362.97 L410.4,363.4 L410.82,363.83 L411.23,364.27 L411.64,364.7 L412.05,365.15 L412.45,365.59 L412.85,366.04 L413.25,366.49 L413.64,366.94 L414.03,367.4 L414.42,367.85 L414.8,368.32 L415.18,368.78 L415.56,369.24 L415.93,369.71 L416.3,370.18 L416.67,370.65 L417.04,371.12 L417.41,371.59 L417.78,372.07 L418.14,372.54 L418.51,373.02 L418.88,373.49 L419.24,373.97 L419.61,374.44 L419.98,374.92 L420.35,375.4 L420.72,375.87 L421.09,376.35 L421.46,376.83 L421.84,377.3 L422.22,377.78 L422.6,378.25 L422.99,378.72 L423.38,379.19 L423.77,379.66 L424.17,380.13 L424.57,380.59 L424.98,381.06 L425.39,381.52 L425.8,381.98 L426.23,382.44 L426.66,382.89 L427.09,383.34 L427.53,383.79 L427.98,384.24 L428.44,384.68 L428.9,385.11 L429.37,385.53 L429.85,385.93 L430.33,386.3 L430.82,386.63 L431.32,386.91 L431.82,387.14 L432.33,387.31 L432.85,387.41 L433.37,387.44 L433.89,387.38 L434.42,387.25 L434.94,387.04 L435.46,386.78 L435.96,386.47 L436.44,386.11 L436.91,385.71 L437.35,385.28 L437.76,384.83 L438.14,384.36 L438.49,383.86 L438.82,383.35 L439.13,382.83 L439.42,382.29 L439.69,381.74 L439.94,381.18 L440.19,380.61 L440.42,380.04 L440.64,379.46 L440.85,378.87 L441.06,378.29 L441.27,377.71 L441.48,377.12 L441.68,376.54 L441.87,375.96 L442.07,375.38 L442.26,374.79 L442.45,374.21 L442.64,373.63 L442.82,373.04 L443,372.46 L443.18,371.88 L443.35,371.3 L443.53,370.71 L443.7,370.13 L443.86,369.55 L444.03,368.96 L444.19,368.38 L444.36,367.8 L444.51,367.22 L444.67,366.63 L444.83,366.05 L444.98,365.47 L445.13,364.88 L445.28,364.3 L445.43,363.72 L445.57,363.13 L445.72,362.55 L445.86,361.97 L446,361.38 L446.14,360.8 L446.28,360.22 L446.42,359.63 L446.56,359.05 L446.69,358.46 L446.82,357.88 L446.96,357.3 L447.09,356.71 L447.22,356.13 L447.35,355.54 L447.48,354.96 L447.61,354.37 L447.74,353.79 L447.86,353.2 L447.99,352.62 L448.12,352.03 L448.24,351.45 L448.37,350.86 L448.49,350.27 L448.62,349.69 L448.74,349.1 L448.87,348.52 L448.99,347.93 L449.11,347.34 L449.24,346.76 L449.36,346.17 L449.49,345.58 L449.61,344.99 L449.74,344.41 L449.87,343.82 L450,343.23 L450.13,342.65 L450.26,342.06 L450.39,341.47 L450.53,340.89 L450.67,340.3 L450.81,339.72 L450.96,339.13 L451.1,338.55 L451.26,337.97 L451.41,337.39 L451.57,336.81 L451.74,336.23 L451.91,335.66 L452.09,335.08 L452.27,334.51 L452.45,333.94 L452.64,333.36 L452.84,332.8 L453.05,332.23 L453.26,331.66 L453.48,331.1 L453.7,330.54 L453.94,329.98 L454.18,329.43 L454.43,328.87 L454.69,328.32 L454.95,327.78 L455.23,327.23 L455.51,326.69 L455.81,326.15 L456.11,325.61 L456.43,325.08 L456.75,324.55 L457.09,324.02 L457.43,323.5 L457.79,322.98 L458.16,322.46 L458.54,321.95 L458.93,321.45 L459.33,320.97 L459.75,320.51 L460.17,320.07 L460.61,319.66 L461.06,319.29 L461.52,318.95 L462,318.65 L462.48,318.39 L462.98,318.19 L463.49,318.04 L464.01,317.95 L464.54,317.92 L465.09,317.96 L465.65,318.07 L466.22,318.25 L466.8,318.52 L467.39,318.86 L468,319.3" fill="none" stroke="#0867c6" stroke-width="2.1" stroke-linejoin="round" stroke-linecap="butt"/>
<path d="M468,319.3 L468.46,319.79 L468.93,320.21 L469.42,320.58 L469.93,320.9 L470.44,321.17 L470.97,321.39 L471.51,321.57 L472.06,321.7 L472.62,321.81 L473.19,321.88 L473.77,321.91 L474.36,321.93 L474.95,321.92 L475.55,321.89 L476.15,321.84 L476.76,321.79 L477.37,321.72 L477.98,321.65 L478.6,321.57 L479.21,321.49 L479.83,321.42 L480.45,321.36 L481.06,321.3 L481.68,321.25 L482.29,321.22 L482.9,321.18 L483.51,321.16 L484.12,321.14 L484.73,321.13 L485.34,321.12 L485.95,321.11 L486.56,321.11 L487.17,321.12 L487.77,321.12 L488.38,321.13 L488.98,321.14 L489.59,321.15 L490.2,321.16 L490.8,321.16 L491.41,321.17 L492.01,321.18 L492.61,321.18 L493.22,321.18 L493.82,321.18 L494.43,321.18 L495.03,321.17 L495.64,321.15 L496.24,321.13 L496.85,321.1 L497.45,321.07 L498.06,321.04 L498.66,321 L499.27,320.96 L499.87,320.92 L500.48,320.87 L501.08,320.82 L501.69,320.77 L502.3,320.72 L502.9,320.67 L503.51,320.62 L504.12,320.57 L504.72,320.52 L505.33,320.47 L505.94,320.42 L506.54,320.38 L507.15,320.33 L507.76,320.29 L508.36,320.26 L508.97,320.23 L509.58,320.2 L510.18,320.18 L510.79,320.16 L511.4,320.15 L512.01,320.15 L512.61,320.15 L513.22,320.16 L513.83,320.17 L514.44,320.19 L515.04,320.21 L515.65,320.24 L516.26,320.28 L516.87,320.32 L517.47,320.37 L518.08,320.42 L518.69,320.47 L519.29,320.53 L519.9,320.59 L520.51,320.65 L521.11,320.72 L521.72,320.79 L522.32,320.86 L522.93,320.94 L523.53,321.02 L524.13,321.1 L524.74,321.18 L525.34,321.26 L525.94,321.34 L526.55,321.42 L527.15,321.5 L527.75,321.58 L528.36,321.66 L528.96,321.73 L529.56,321.8 L530.16,321.87 L530.77,321.93 L531.37,321.99 L531.97,322.05 L532.58,322.09 L533.18,322.14 L533.79,322.17 L534.39,322.2 L535,322.22 L535.6,322.23 L536.21,322.24 L536.82,322.23 L537.42,322.22 L538.03,322.19 L538.64,322.16 L539.25,322.11 L539.86,322.05 L540.47,321.98 L541.09,321.9 L541.7,321.8" fill="none" stroke="#de679d" stroke-width="2" stroke-linejoin="round" stroke-linecap="butt"/>
<circle cx="87" cy="50.5" r="2.9" fill="#e69f5f"/>
<circle cx="173.3" cy="139.7" r="2.9" fill="#e69f5f"/>
<circle cx="275.6" cy="58.6" r="2.9" fill="#e69f5f"/>
<circle cx="75.5" cy="189.8" r="2.9" fill="#e69f5f"/>
<circle cx="101.3" cy="218.1" r="2.9" fill="#e69f5f"/>
<circle cx="151.3" cy="186" r="2.9" fill="#e69f5f"/>
<circle cx="215.6" cy="270.6" r="2.9" fill="#e69f5f"/>
<circle cx="87.2" cy="348.9" r="2.9" fill="#e69f5f"/>
<circle cx="165.3" cy="310.3" r="2.9" fill="#e69f5f"/>
<circle cx="199.4" cy="401" r="2.9" fill="#e69f5f"/>
<circle cx="437.2" cy="50.3" r="2.9" fill="#e69f5f"/>
<circle cx="531.6" cy="121.6" r="2.9" fill="#e69f5f"/>
<circle cx="371.2" cy="194.2" r="2.9" fill="#e69f5f"/>
<circle cx="413.4" cy="241.5" r="2.9" fill="#e69f5f"/>
<circle cx="433.3" cy="387.7" r="2.9" fill="#e69f5f"/>
<text x="88.4" y="63.7" font-size="7" text-anchor="middle" fill="#222" stroke="#222" stroke-width="0.1">HF1</text>
<text x="171.7" y="132.4" font-size="7" text-anchor="middle" fill="#222" stroke="#222" stroke-width="0.1">HE</text>
<text x="265" y="53.6" font-size="7" text-anchor="middle" fill="#222" stroke="#222" stroke-width="0.1">HF2</text>
<text x="88.7" y="188.1" font-size="7" text-anchor="middle" fill="#222" stroke="#222" stroke-width="0.1">KF1</text>
<text x="102.7" y="229.7" font-size="7" text-anchor="middle" fill="#222" stroke="#222" stroke-width="0.1">KF2</text>
<text x="150.4" y="199.1" font-size="7" text-anchor="middle" fill="#222" stroke="#222" stroke-width="0.1">KE</text>
<text x="215.6" y="261.4" font-size="7" text-anchor="middle" fill="#222" stroke="#222" stroke-width="0.1">KF3</text>
<text x="88.7" y="362.5" font-size="7" text-anchor="middle" fill="#222" stroke="#222" stroke-width="0.1">AP1</text>
<text x="164" y="322.9" font-size="7" text-anchor="middle" fill="#222" stroke="#222" stroke-width="0.1">AD</text>
<text x="221" y="387.8" font-size="7" text-anchor="middle" fill="#222" stroke="#222" stroke-width="0.1">AP2</text>
<text x="437.9" y="65.8" font-size="7" text-anchor="middle" fill="#222" stroke="#222" stroke-width="0.1">HF</text>
<text x="438.2" y="74.5" font-size="7" text-anchor="middle" fill="#222" stroke="#222" stroke-width="0.1">Moment</text>
<text x="512.3" y="123.3" font-size="7" text-anchor="middle" fill="#222" stroke="#222" stroke-width="0.1">HE</text>
<text x="512.1" y="131.6" font-size="7" text-anchor="middle" fill="#222" stroke="#222" stroke-width="0.1">Moment</text>
<text x="386.9" y="183" font-size="7" text-anchor="middle" fill="#222" stroke="#222" stroke-width="0.1">KE</text>
<text x="387" y="191" font-size="7" text-anchor="middle" fill="#222" stroke="#222" stroke-width="0.1">Moment</text>
<text x="412.6" y="254" font-size="7" text-anchor="middle" fill="#222" stroke="#222" stroke-width="0.1">KF</text>
<text x="414.7" y="262.8" font-size="7" text-anchor="middle" fill="#222" stroke="#222" stroke-width="0.1">Moment</text>
<text x="456.1" y="384.3" font-size="7" text-anchor="middle" fill="#222" stroke="#222" stroke-width="0.1">AP</text>
<text x="455.7" y="393.3" font-size="7" text-anchor="middle" fill="#222" stroke="#222" stroke-width="0.1">Moment</text>
<text x="73.95" y="41.95" font-size="6.3" text-anchor="end" fill="#3c3c3c">40</text>
<text x="71.05" y="113.15" font-size="6.3" text-anchor="end" fill="#3c3c3c">0</text>
<text x="72.95" y="148.25" font-size="6.3" text-anchor="end" fill="#3c3c3c">−20</text>
<text x="71.25" y="173.45" font-size="6.3" text-anchor="end" fill="#3c3c3c">0</text>
<text x="73.05" y="278.65" font-size="6.3" text-anchor="end" fill="#3c3c3c">−80</text>
<text x="72.15" y="302.55" font-size="6.3" text-anchor="end" fill="#3c3c3c">30</text>
<text x="72.25" y="366.45" font-size="6.3" text-anchor="end" fill="#3c3c3c">0</text>
<text x="73.05" y="409.15" font-size="6.3" text-anchor="end" fill="#3c3c3c">−20</text>
<text x="337.45" y="42.45" font-size="6.3" text-anchor="end" fill="#3c3c3c">1</text>
<text x="337.65" y="84.65" font-size="6.3" text-anchor="end" fill="#3c3c3c">0</text>
<text x="339.25" y="148.35" font-size="6.3" text-anchor="end" fill="#3c3c3c">−1.5</text>
<text x="337.25" y="173.25" font-size="6.3" text-anchor="end" fill="#3c3c3c">1.2</text>
<text x="338.15" y="236.65" font-size="6.3" text-anchor="end" fill="#3c3c3c">0</text>
<text x="339.05" y="278.45" font-size="6.3" text-anchor="end" fill="#3c3c3c">−0.8</text>
<text x="338.25" y="302.75" font-size="6.3" text-anchor="end" fill="#3c3c3c">0.5</text>
<text x="338.05" y="324.35" font-size="6.3" text-anchor="end" fill="#3c3c3c">0</text>
<text x="339.05" y="408.85" font-size="6.3" text-anchor="end" fill="#3c3c3c">−2</text>
<text x="75.5" y="413.65" font-size="6.3" text-anchor="middle" fill="#3c3c3c">0</text>
<text x="175.6" y="413.95" font-size="6.3" text-anchor="middle" fill="#3c3c3c">50</text>
<text x="276" y="413.45" font-size="6.3" text-anchor="middle" fill="#3c3c3c">100</text>
<text x="340.9" y="414.05" font-size="6.3" text-anchor="middle" fill="#3c3c3c">0</text>
<text x="442.2" y="414.05" font-size="6.3" text-anchor="middle" fill="#3c3c3c">50</text>
<text x="540.9" y="414.05" font-size="6.3" text-anchor="middle" fill="#3c3c3c">100</text>
<text x="175.5" y="426.8" font-size="7.1" text-anchor="middle" fill="#222" stroke="#222" stroke-width="0.25">Gait Cycle (%)</text>
<text x="441.9" y="426.8" font-size="7.1" text-anchor="middle" fill="#222" stroke="#222" stroke-width="0.25">Gait Cycle (%)</text>
<line x1="61.7" y1="56.3" x2="61.7" y2="91.4" stroke="#444" stroke-width="1.3"/>
<ellipse cx="61.7" cy="57.5" rx="1.1" ry="1.4" fill="#222"/>
<ellipse cx="61.7" cy="90.2" rx="1.1" ry="1.4" fill="#222"/>
<text transform="translate(59,75.2) rotate(-90)" font-size="6.2" text-anchor="middle" fill="#222">Flexion</text>
<line x1="61.7" y1="109.3" x2="61.7" y2="143.1" stroke="#444" stroke-width="1.3"/>
<ellipse cx="61.7" cy="110.5" rx="1.1" ry="1.4" fill="#222"/>
<ellipse cx="61.7" cy="141.9" rx="1.1" ry="1.4" fill="#222"/>
<text transform="translate(59,127.5) rotate(-90)" font-size="6.2" text-anchor="middle" fill="#222">Extension</text>
<line x1="61.7" y1="179.9" x2="61.7" y2="214.5" stroke="#444" stroke-width="1.3"/>
<ellipse cx="61.7" cy="181.1" rx="1.1" ry="1.4" fill="#222"/>
<ellipse cx="61.7" cy="213.3" rx="1.1" ry="1.4" fill="#222"/>
<text transform="translate(59,198.5) rotate(-90)" font-size="6.2" text-anchor="middle" fill="#222">Extension</text>
<line x1="61.7" y1="232.6" x2="61.7" y2="267" stroke="#444" stroke-width="1.3"/>
<ellipse cx="61.7" cy="233.8" rx="1.1" ry="1.4" fill="#222"/>
<ellipse cx="61.7" cy="265.8" rx="1.1" ry="1.4" fill="#222"/>
<text transform="translate(59,250.7) rotate(-90)" font-size="6.2" text-anchor="middle" fill="#222">Flexion</text>
<line x1="61.7" y1="313.7" x2="61.7" y2="348.1" stroke="#444" stroke-width="1.3"/>
<ellipse cx="61.7" cy="314.9" rx="1.1" ry="1.4" fill="#222"/>
<ellipse cx="61.7" cy="346.9" rx="1.1" ry="1.4" fill="#222"/>
<text transform="translate(59,332.8) rotate(-90)" font-size="6.2" text-anchor="middle" fill="#222">Dorsiflexion</text>
<line x1="61.7" y1="366.2" x2="61.7" y2="401.1" stroke="#444" stroke-width="1.3"/>
<ellipse cx="61.7" cy="367.4" rx="1.1" ry="1.4" fill="#222"/>
<ellipse cx="61.7" cy="399.9" rx="1.1" ry="1.4" fill="#222"/>
<text transform="translate(59,384.5) rotate(-90)" font-size="6.2" text-anchor="middle" fill="#222">Plantarflexion</text>
<line x1="323.2" y1="49.4" x2="323.2" y2="84.5" stroke="#444" stroke-width="1.3"/>
<ellipse cx="323.2" cy="50.6" rx="1.1" ry="1.4" fill="#222"/>
<ellipse cx="323.2" cy="83.3" rx="1.1" ry="1.4" fill="#222"/>
<text transform="translate(320.4,66.3) rotate(-90)" font-size="6.2" text-anchor="middle" fill="#222">Flexion</text>
<line x1="323.2" y1="102" x2="323.2" y2="137.3" stroke="#444" stroke-width="1.3"/>
<ellipse cx="323.2" cy="103.2" rx="1.1" ry="1.4" fill="#222"/>
<ellipse cx="323.2" cy="136.1" rx="1.1" ry="1.4" fill="#222"/>
<text transform="translate(320.4,120.1) rotate(-90)" font-size="6.2" text-anchor="middle" fill="#222">Extension</text>
<line x1="323.2" y1="179.4" x2="323.2" y2="214.7" stroke="#444" stroke-width="1.3"/>
<ellipse cx="323.2" cy="180.6" rx="1.1" ry="1.4" fill="#222"/>
<ellipse cx="323.2" cy="213.5" rx="1.1" ry="1.4" fill="#222"/>
<text transform="translate(320.4,198.5) rotate(-90)" font-size="6.2" text-anchor="middle" fill="#222">Extension</text>
<line x1="323.2" y1="232.6" x2="323.2" y2="267.5" stroke="#444" stroke-width="1.3"/>
<ellipse cx="323.2" cy="233.8" rx="1.1" ry="1.4" fill="#222"/>
<ellipse cx="323.2" cy="266.3" rx="1.1" ry="1.4" fill="#222"/>
<text transform="translate(320.4,251.1) rotate(-90)" font-size="6.2" text-anchor="middle" fill="#222">Flexion</text>
<line x1="324" y1="309.8" x2="324" y2="345" stroke="#444" stroke-width="1.3"/>
<ellipse cx="324" cy="311" rx="1.1" ry="1.4" fill="#222"/>
<ellipse cx="324" cy="343.8" rx="1.1" ry="1.4" fill="#222"/>
<text transform="translate(321,328.5) rotate(-90)" font-size="6.2" text-anchor="middle" fill="#222">Dorsiflexion</text>
<line x1="324" y1="362.4" x2="324" y2="397.5" stroke="#444" stroke-width="1.3"/>
<ellipse cx="324" cy="363.6" rx="1.1" ry="1.4" fill="#222"/>
<ellipse cx="324" cy="396.3" rx="1.1" ry="1.4" fill="#222"/>
<text transform="translate(321,380.9) rotate(-90)" font-size="6.2" text-anchor="middle" fill="#222">Plantarflexion</text>
<text x="175.3" y="17.6" font-size="15.8" text-anchor="middle" fill="#000">Kinematics</text>
<text x="175.4" y="30.2" font-size="8" text-anchor="middle" fill="#222" stroke="#222" stroke-width="0.12">(Degrees)</text>
<text x="442" y="17.6" font-size="15.8" text-anchor="middle" fill="#000">Kinetics</text>
<text x="441.8" y="30.2" font-size="8" text-anchor="middle" fill="#222" stroke="#222" stroke-width="0.12">(N·m/kg)</text>
<text x="34" y="96.4" font-size="12" text-anchor="end" fill="#000">Hip</text>
<text x="34" y="227.2" font-size="12" text-anchor="end" fill="#000">Knee</text>
<text x="34" y="357.8" font-size="12" text-anchor="end" fill="#000">Ankle</text>
<defs><pattern id="dg" width="3.2" height="4" patternUnits="userSpaceOnUse"><rect width="3.2" height="4" fill="#b5e696"/><rect width="1.2" height="4" fill="#c9ebab"/></pattern><pattern id="dp" width="3.2" height="4" patternUnits="userSpaceOnUse"><rect width="3.2" height="4" fill="#de679d"/><rect width="1.2" height="4" fill="#f0b3cd"/></pattern></defs>
<rect x="117.6" y="441.8" width="100.6" height="3" fill="url(#dg)"/>
<rect x="254.8" y="441.6" width="101" height="3.2" fill="#0867c6"/>
<rect x="392.3" y="441.8" width="100.6" height="3" fill="url(#dp)"/>
<text x="167.9" y="453.9" font-size="10" text-anchor="middle" fill="#222">Early Stance</text>
<text x="305.6" y="453.9" font-size="10" text-anchor="middle" fill="#222">Mid-to-Late Stance</text>
<text x="442.7" y="453.9" font-size="10" text-anchor="middle" fill="#222">Swing</text>
</svg>
</body></html>
